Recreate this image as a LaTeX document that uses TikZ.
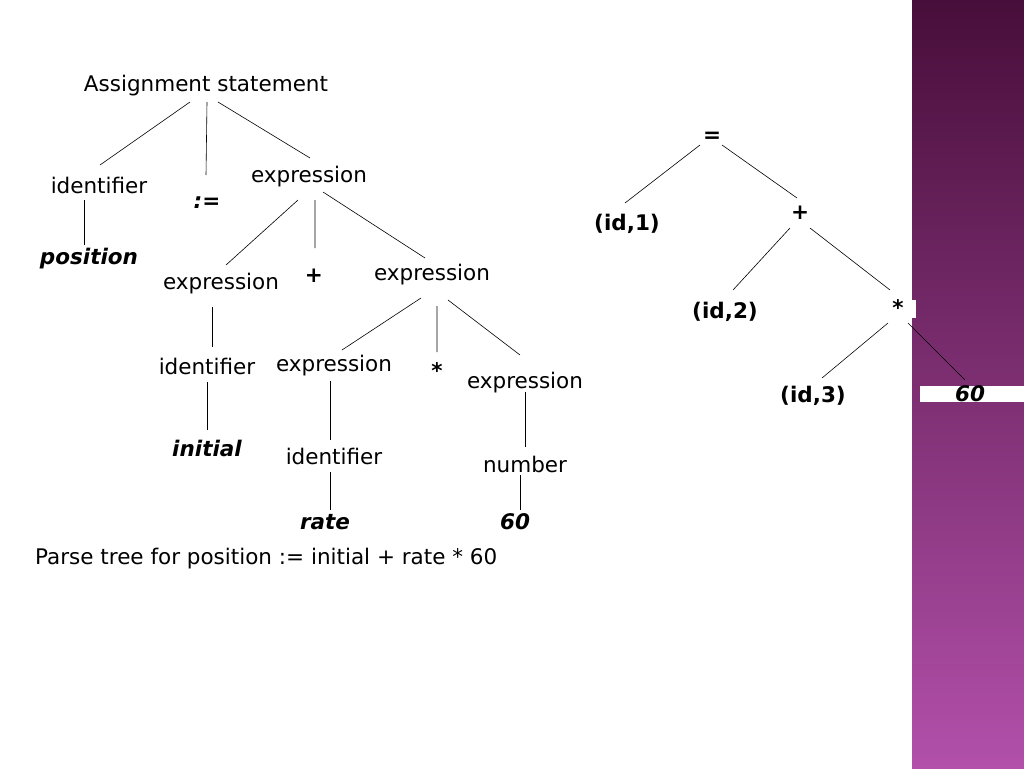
\documentclass[tikz,border=0pt]{standalone}
\usepackage{fontspec}
\setmainfont{DejaVu Sans}
\begin{document}
\begin{tikzpicture}[x=1pt,y=-1pt,
  t/.style={inner sep=1pt,font=\fontsize{21.5}{24}\selectfont},
  lf/.style={t,font=\fontsize{21.5}{24}\selectfont\bfseries\itshape},
  bd/.style={t,font=\fontsize{21.5}{24}\selectfont\bfseries},
  ln/.style={draw=black,line width=0.6pt}]
\useasboundingbox (0,0) rectangle (1024,768);
\fill[white] (0,0) rectangle (1024,768);
\shade[top color={rgb,255:red,72;green,14;blue,58}, bottom color={rgb,255:red,178;green,80;blue,170}] (912,0) rectangle (1024,768);
\fill[white] (886,300) rectangle (916,318);
\fill[white] (920,386) rectangle (1024,402);
% left tree
\node[t] (as) at (206,86) {Assignment statement};
\node[t] (id1) at (99,185) {identifier};
\node[lf] (pos) at (89,259) {position};
\node[lf] (asg) at (207,203) {:=};
\node[t] (e1) at (309,177) {expression};
\node[t] (e2) at (221,284) {expression};
\node[bd] (pl) at (314,276) {+};
\node[t] (e3) at (432,275) {expression};
\node[t] (id2) at (207,366) {identifier};
\node[lf] (ini) at (207,448) {initial};
\node[t] (e4) at (334,366) {expression};
\node[bd] (st) at (437,371) {*};
\node[t] (e5) at (525,383) {expression};
\node[t] (id3) at (334,456) {identifier};
\node[lf] (rate) at (325,522) {rate};
\node[t] (num) at (525,464) {number};
\node[lf] (sixty) at (515,522) {60};
\node[t,anchor=west] (cap) at (34,559) {Parse tree for position := initial + rate * 60};
\coordinate (a1) at (190,102); \coordinate (b1) at (100,165);
\coordinate (a2) at (207,102); \coordinate (b2) at (206,175);
\coordinate (a3) at (218,102); \coordinate (b3) at (310,158);
\draw[ln] (a1)--(b1) (a2)--(b2) (a3)--(b3);
\coordinate (c1) at (84,200); \coordinate (d1) at (84,245); \draw[ln] (c1)--(d1);
\coordinate (f1) at (298,200); \coordinate (g1) at (226,265);
\coordinate (f2) at (315,200); \coordinate (g2) at (315,248);
\coordinate (f3) at (323,192); \coordinate (g3) at (425,258);
\draw[ln] (f1)--(g1) (f2)--(g2) (f3)--(g3);
\coordinate (h1) at (212,307); \coordinate (i1) at (212,347); \draw[ln] (h1)--(i1);
\coordinate (h2) at (207,382); \coordinate (i2) at (207,430); \draw[ln] (h2)--(i2);
\coordinate (j1) at (421,298); \coordinate (k1) at (342,350);
\coordinate (j2) at (437,306); \coordinate (k2) at (437,352);
\coordinate (j3) at (448,300); \coordinate (k3) at (520,355);
\draw[ln] (j1)--(k1) (j2)--(k2) (j3)--(k3);
\coordinate (m1) at (330,381); \coordinate (n1) at (330,440); \draw[ln] (m1)--(n1);
\coordinate (m2) at (330,472); \coordinate (n2) at (330,510); \draw[ln] (m2)--(n2);
\coordinate (m3) at (525,392); \coordinate (n3) at (525,447); \draw[ln] (m3)--(n3);
\coordinate (m4) at (520,475); \coordinate (n4) at (520,510); \draw[ln] (m4)--(n4);
% right tree
\node[bd] (eq) at (712,137) {=};
\node[bd] (r1) at (627,224) {(id,1)};
\node[bd] (rp) at (800,213) {+};
\node[bd] (r2) at (725,312) {(id,2)};
\node[bd] (rs) at (898,308) {*};
\node[bd] (r3) at (813,396) {(id,3)};
\node[lf] (r60) at (970,394) {60};
\coordinate (p1) at (700,145); \coordinate (q1) at (625,203);
\coordinate (p2) at (722,145); \coordinate (q2) at (797,198);
\coordinate (p3) at (790,228); \coordinate (q3) at (733,290);
\coordinate (p4) at (810,228); \coordinate (q4) at (890,290);
\coordinate (p5) at (888,323); \coordinate (q5) at (822,378);
\coordinate (p6) at (908,323); \coordinate (q6) at (965,380);
\draw[ln] (p1)--(q1) (p2)--(q2) (p3)--(q3) (p4)--(q4) (p5)--(q5) (p6)--(q6);
\end{tikzpicture}
\end{document}
